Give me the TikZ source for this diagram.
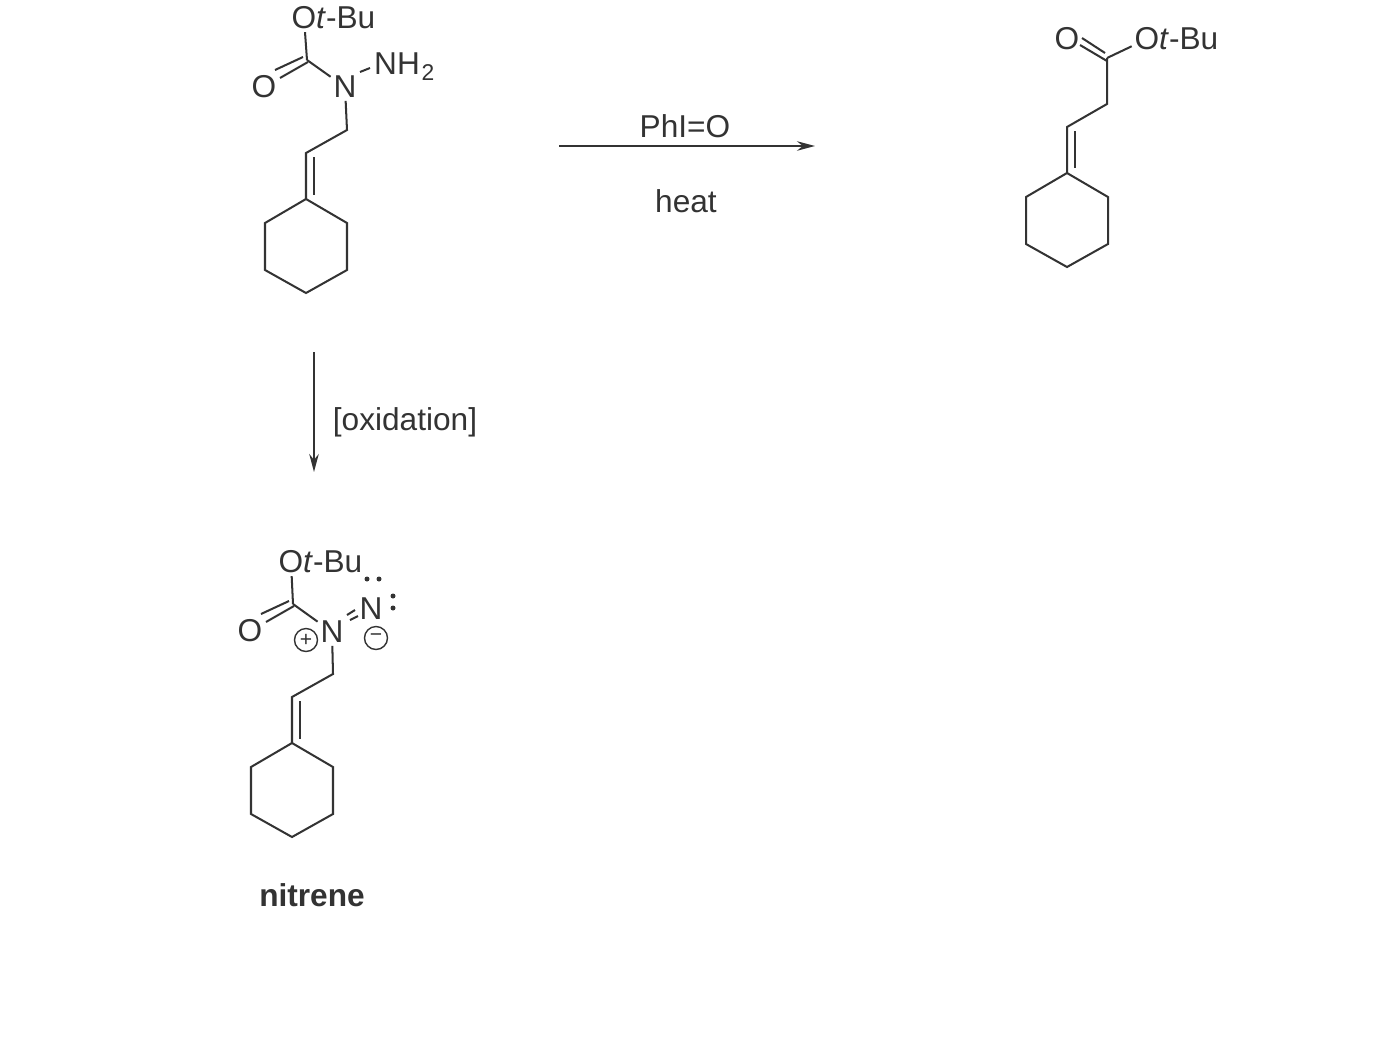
\documentclass[tikz,border=0pt]{standalone}
\usepackage{fontspec}
\setmainfont{Liberation Sans}
\usetikzlibrary{positioning,arrows.meta}
\definecolor{ink}{gray}{0.2}
\tikzset{
	atom/.style={inner sep=1.5pt,text=ink},
	tail/.style={inner sep=0pt,text=ink},
	subs/.style={inner sep=0pt,text=ink,font=\fontsize{13}{14}\selectfont},
	bond/.style={draw=ink,line width=1.15pt},
	react/.style={draw=ink,line width=1.1pt,-{Stealth[length=.36cm,width=.19cm]}},
	charge/.style={circle,draw=ink,line width=.8pt,inner sep=0pt,minimum size=.46cm,text=ink,font=\fontsize{12}{12}\selectfont},
	lone/.style={circle,fill=ink,inner sep=0pt,minimum size=.1cm}
}
\begin{document}
\begin{tikzpicture}[x=.02cm,y=-.02cm,font=\fontsize{18}{20}\selectfont]
	\useasboundingbox (0,0) rectangle (1399,1038);
	% hydrazine
	\node[atom] (aO) at (304,18) {O};
	\node[tail,right=-2pt of aO] (aBu) {\textit{t}-Bu};
	\coordinate (aC) at (307,60);
	\node[atom] (aOd) at (264,87) {O};
	\node[atom] (aN) at (345,87) {N};
	\node[atom] (aNH) at (397,64) {NH};
	\node[subs] (aTwo) at (428,73) {2};
	\coordinate (aD1) at (347,130);
	\coordinate (aD2) at (306,153);
	\coordinate (aR1) at (306,199);
	\coordinate (aR2) at (347,223);
	\coordinate (aR3) at (347,270);
	\coordinate (aR4) at (306,293);
	\coordinate (aR5) at (265,270);
	\coordinate (aR6) at (265,223);
	\coordinate (aE1) at (303,57);
	\coordinate (aE2) at (275,70);
	\coordinate (aE3) at (308,62);
	\coordinate (aE4) at (280,78);
	\coordinate (aE5) at (314,157);
	\coordinate (aE6) at (314,195);
	\coordinate (aS1) at (360,72);
	\coordinate (aS2) at (370,68);
	\draw[bond] (aO) -- (aC);
	\draw[bond] (aE1) -- (aE2);
	\draw[bond] (aE3) -- (aE4);
	\draw[bond] (aC) -- (aN);
	\draw[bond] (aS1) -- (aS2);
	\draw[bond] (aN) -- (aD1) -- (aD2) -- (aR1);
	\draw[bond] (aE5) -- (aE6);
	\draw[bond] (aR1) -- (aR2) -- (aR3) -- (aR4) -- (aR5) -- (aR6) -- cycle;
	% ester
	\node[atom] (bOd) at (1067,39) {O};
	\node[atom] (bO) at (1147,39) {O};
	\node[tail,right=-2pt of bO] (bBu) {\textit{t}-Bu};
	\coordinate (bC) at (1107,58);
	\coordinate (bD1) at (1107,104);
	\coordinate (bD2) at (1067,127);
	\coordinate (bR1) at (1067,173);
	\coordinate (bR2) at (1108,197);
	\coordinate (bR3) at (1108,244);
	\coordinate (bR4) at (1067,267);
	\coordinate (bR5) at (1026,244);
	\coordinate (bR6) at (1026,197);
	\coordinate (bE1) at (1082,38);
	\coordinate (bE2) at (1105,53);
	\coordinate (bE3) at (1080,45);
	\coordinate (bE4) at (1107,61);
	\coordinate (bE5) at (1075,131);
	\coordinate (bE6) at (1075,168);
	\draw[bond] (bE1) -- (bE2);
	\draw[bond] (bE3) -- (bE4);
	\draw[bond] (bO) -- (bC);
	\draw[bond] (bC) -- (bD1) -- (bD2) -- (bR1);
	\draw[bond] (bE5) -- (bE6);
	\draw[bond] (bR1) -- (bR2) -- (bR3) -- (bR4) -- (bR5) -- (bR6) -- cycle;
	% arrows
	\coordinate (hS) at (559,146);
	\coordinate (hT) at (815,146);
	\coordinate (vS) at (314,352);
	\coordinate (vT) at (314,472);
	\draw[react] (hS) -- (hT);
	\draw[react] (vS) -- (vT);
	\node[tail] (reagent) at (685,126) {PhI=O};
	\node[tail] (heat) at (686,201) {heat};
	\node[tail] (oxid) at (405,422) {[oxidation]};
	% nitrene
	\node[atom] (cO) at (291,562) {O};
	\node[tail,right=-2pt of cO] (cBu) {\textit{t}-Bu};
	\coordinate (cC) at (293,604);
	\node[atom] (cOd) at (250,631) {O};
	\node[atom] (cN) at (332,632) {N};
	\node[atom] (cNt) at (371,609) {N};
	\node[charge] (cPlus) at (306,640) {+};
	\node[charge] (cMinus) at (376,638) {−};
	\node[lone] (cL1) at (367,579) {};
	\node[lone] (cL2) at (379,579) {};
	\node[lone] (cL3) at (393,596) {};
	\node[lone] (cL4) at (393,608) {};
	\coordinate (cD1) at (333,674);
	\coordinate (cD2) at (292,697);
	\coordinate (cR1) at (292,743);
	\coordinate (cR2) at (333,767);
	\coordinate (cR3) at (333,814);
	\coordinate (cR4) at (292,837);
	\coordinate (cR5) at (251,814);
	\coordinate (cR6) at (251,767);
	\coordinate (cE1) at (289,601);
	\coordinate (cE2) at (261,614);
	\coordinate (cE3) at (294,606);
	\coordinate (cE4) at (266,622);
	\coordinate (cE5) at (300,701);
	\coordinate (cE6) at (300,739);
	\coordinate (cS1) at (347,615);
	\coordinate (cS2) at (355,610);
	\coordinate (cS3) at (350,620);
	\coordinate (cS4) at (358,616);
	\draw[bond] (cO) -- (cC);
	\draw[bond] (cE1) -- (cE2);
	\draw[bond] (cE3) -- (cE4);
	\draw[bond] (cC) -- (cN);
	\draw[bond] (cS1) -- (cS2);
	\draw[bond] (cS3) -- (cS4);
	\draw[bond] (cN) -- (cD1) -- (cD2) -- (cR1);
	\draw[bond] (cE5) -- (cE6);
	\draw[bond] (cR1) -- (cR2) -- (cR3) -- (cR4) -- (cR5) -- (cR6) -- cycle;
	\node[tail,font=\fontsize{18}{20}\selectfont\bfseries] (name) at (312,895) {nitrene};
\end{tikzpicture}
\end{document}
